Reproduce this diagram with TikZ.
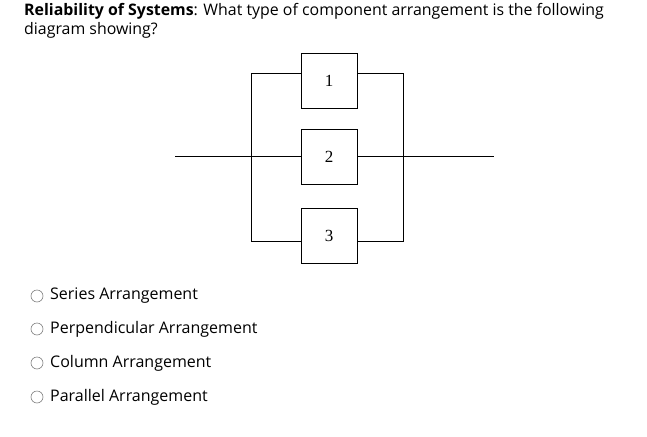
\documentclass[tikz,border=0pt]{standalone}
\usepackage{fontspec}
\setmainfont{Open Sans}
\newfontfamily\serifnum{Liberation Serif}
\begin{document}
\begin{tikzpicture}[x=1pt,y=-1pt,
  comp/.style={draw,line width=0.8pt,minimum width=56pt,minimum height=55pt,font=\serifnum\fontsize{17}{17}\selectfont,inner sep=0},
  wire/.style={line width=0.8pt},
  radio/.style={draw=gray,circle,line width=0.6pt,minimum size=12pt,inner sep=0},
  opt/.style={anchor=west,font=\fontsize{16}{18}\selectfont,inner sep=0}]
\useasboundingbox (0,0) rectangle (647,436);
\node[anchor=north west,align=left,inner sep=0,font=\fontsize{15.9}{19.5}\selectfont] (title) at (24,3)
 {\textbf{Reliability of Systems}: What type of component arrangement is the following\\diagram showing?};
\node[comp] (c1) at (329,81) {1};
\node[comp] (c2) at (329,157) {2};
\node[comp] (c3) at (329,236) {3};
\coordinate (lt) at (251,73); \coordinate (lb) at (251,241);
\coordinate (rt) at (403,73); \coordinate (rb) at (403,241);
\coordinate (in) at (175,156); \coordinate (out) at (494,156);
\draw[wire] (c1.west|-lt) -- (lt) -- (lb) -- (c3.west|-lb);
\draw[wire] (c1.east|-rt) -- (rt) -- (rb) -- (c3.east|-rb);
\draw[wire] (in) -- (c2.west|-in);
\draw[wire] (c2.east|-out) -- (out);
\foreach \y/\t [count=\i] in {296/Series Arrangement,329/Perpendicular Arrangement,363/Column Arrangement,397/Parallel Arrangement}{
  \node[radio] (r\i) at (37,\y) {};
  \node[opt] (o\i) at (50,\y) {\t};
}
\end{tikzpicture}
\end{document}
